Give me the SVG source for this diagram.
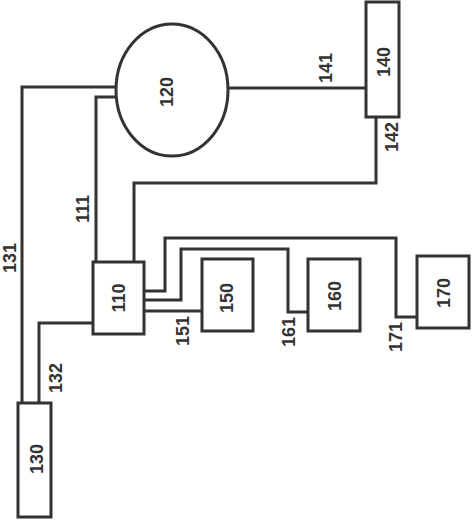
<svg xmlns="http://www.w3.org/2000/svg" width="474" height="521" viewBox="0 0 474 521">
<style>
.n{fill:#fff;stroke:#333;stroke-width:3}
.c{fill:none;stroke:#333;stroke-width:3;stroke-linejoin:miter}
text{font-family:"Liberation Sans",Arial,sans-serif;font-size:18px;font-weight:bold;fill:#333;text-anchor:middle;dominant-baseline:central}
</style>
<rect width="474" height="521" fill="#fff"/>
<g id="connectors">
<polyline class="c" points="228,88 366,88"/>
<polyline class="c" points="376,117 376,183 134,183 134,262"/>
<polyline class="c" points="116,97 96,97 96,262"/>
<polyline class="c" points="116,87 22,87 22,403"/>
<polyline class="c" points="93,323 39,323 39,403"/>
<polyline class="c" points="144,291 165,291 165,238 396,238 396,317 417,317"/>
<polyline class="c" points="144,300 181,300 181,249 288,249 288,312 308,312"/>
<polyline class="c" points="144,311 202,311"/>
<text transform="translate(326,68) rotate(-90)">141</text>
<text transform="translate(392,137) rotate(-90)">142</text>
<text transform="translate(83,209) rotate(-90)">111</text>
<text transform="translate(10,258) rotate(-90)">131</text>
<text transform="translate(56,378) rotate(-90)">132</text>
<text transform="translate(183,331) rotate(-90)">151</text>
<text transform="translate(289,332) rotate(-90)">161</text>
<text transform="translate(396,337) rotate(-90)">171</text>
</g>
<g id="n120"><ellipse class="n" cx="172" cy="90" rx="56" ry="66"/><text transform="translate(167,92) rotate(-90)">120</text></g>
<g id="n140"><rect class="n" x="366" y="2" width="33" height="115"/><text transform="translate(384,62) rotate(-90)">140</text></g>
<g id="n110"><rect class="n" x="93" y="262" width="51" height="72"/><text transform="translate(119,298) rotate(-90)">110</text></g>
<g id="n130"><rect class="n" x="18" y="403" width="33" height="114"/><text transform="translate(37,459) rotate(-90)">130</text></g>
<g id="n150"><rect class="n" x="202" y="259" width="51" height="72"/><text transform="translate(227,298) rotate(-90)">150</text></g>
<g id="n160"><rect class="n" x="308" y="259" width="52" height="72"/><text transform="translate(335,296) rotate(-90)">160</text></g>
<g id="n170"><rect class="n" x="417" y="256" width="52" height="72"/><text transform="translate(444,293) rotate(-90)">170</text></g>
</svg>
